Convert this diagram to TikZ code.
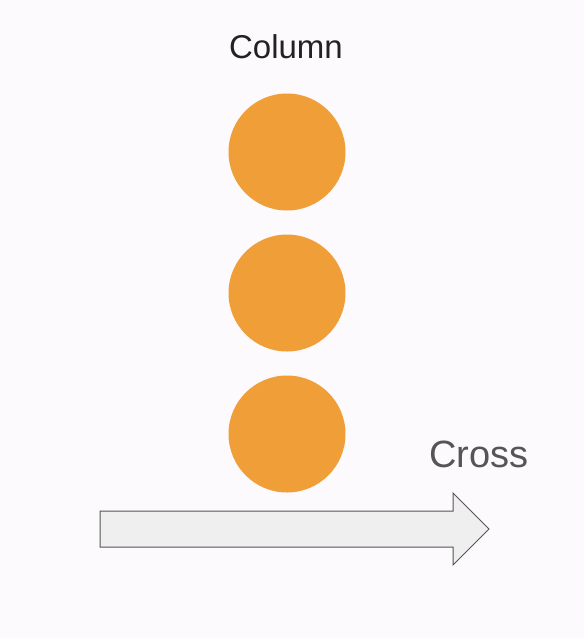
\documentclass[tikz,border=0pt]{standalone}
\usepackage{fontspec}
\setmainfont{Liberation Sans}
\definecolor{bgc}{HTML}{FCFAFC}
\definecolor{dotc}{HTML}{F09E38}
\definecolor{arrf}{HTML}{EFEFEF}
\definecolor{arrd}{HTML}{555555}
\definecolor{colt}{HTML}{222222}
\definecolor{crost}{HTML}{555555}
\tikzset{
  dot/.style={circle,fill=dotc,draw=none,minimum size=117pt,inner sep=0pt},
  lbl/.style={inner sep=0pt,anchor=base}
}
\begin{document}
\begin{tikzpicture}[x=1pt,y=-1pt]
\fill[bgc] (0,0) rectangle (584,638);
\useasboundingbox (0,0) rectangle (584,638);
\node[lbl,text=colt,font=\fontsize{33}{38}\selectfont] (col) at (286,58) {Column};
\node[dot] (d1) at (287,152) {};
\node[dot] (d2) at (287,293) {};
\node[dot] (d3) at (287,434) {};
\node[lbl,text=crost,font=\fontsize{38}{44}\selectfont,anchor=base west] (cross) at (429,467) {Cross};
\draw[fill=arrf,draw=arrd,line width=1pt,line join=miter]
  (100,511) -- (453,511) -- (453,493) -- (489,529) -- (453,565) -- (453,547) -- (100,547) -- cycle;
\end{tikzpicture}
\end{document}
